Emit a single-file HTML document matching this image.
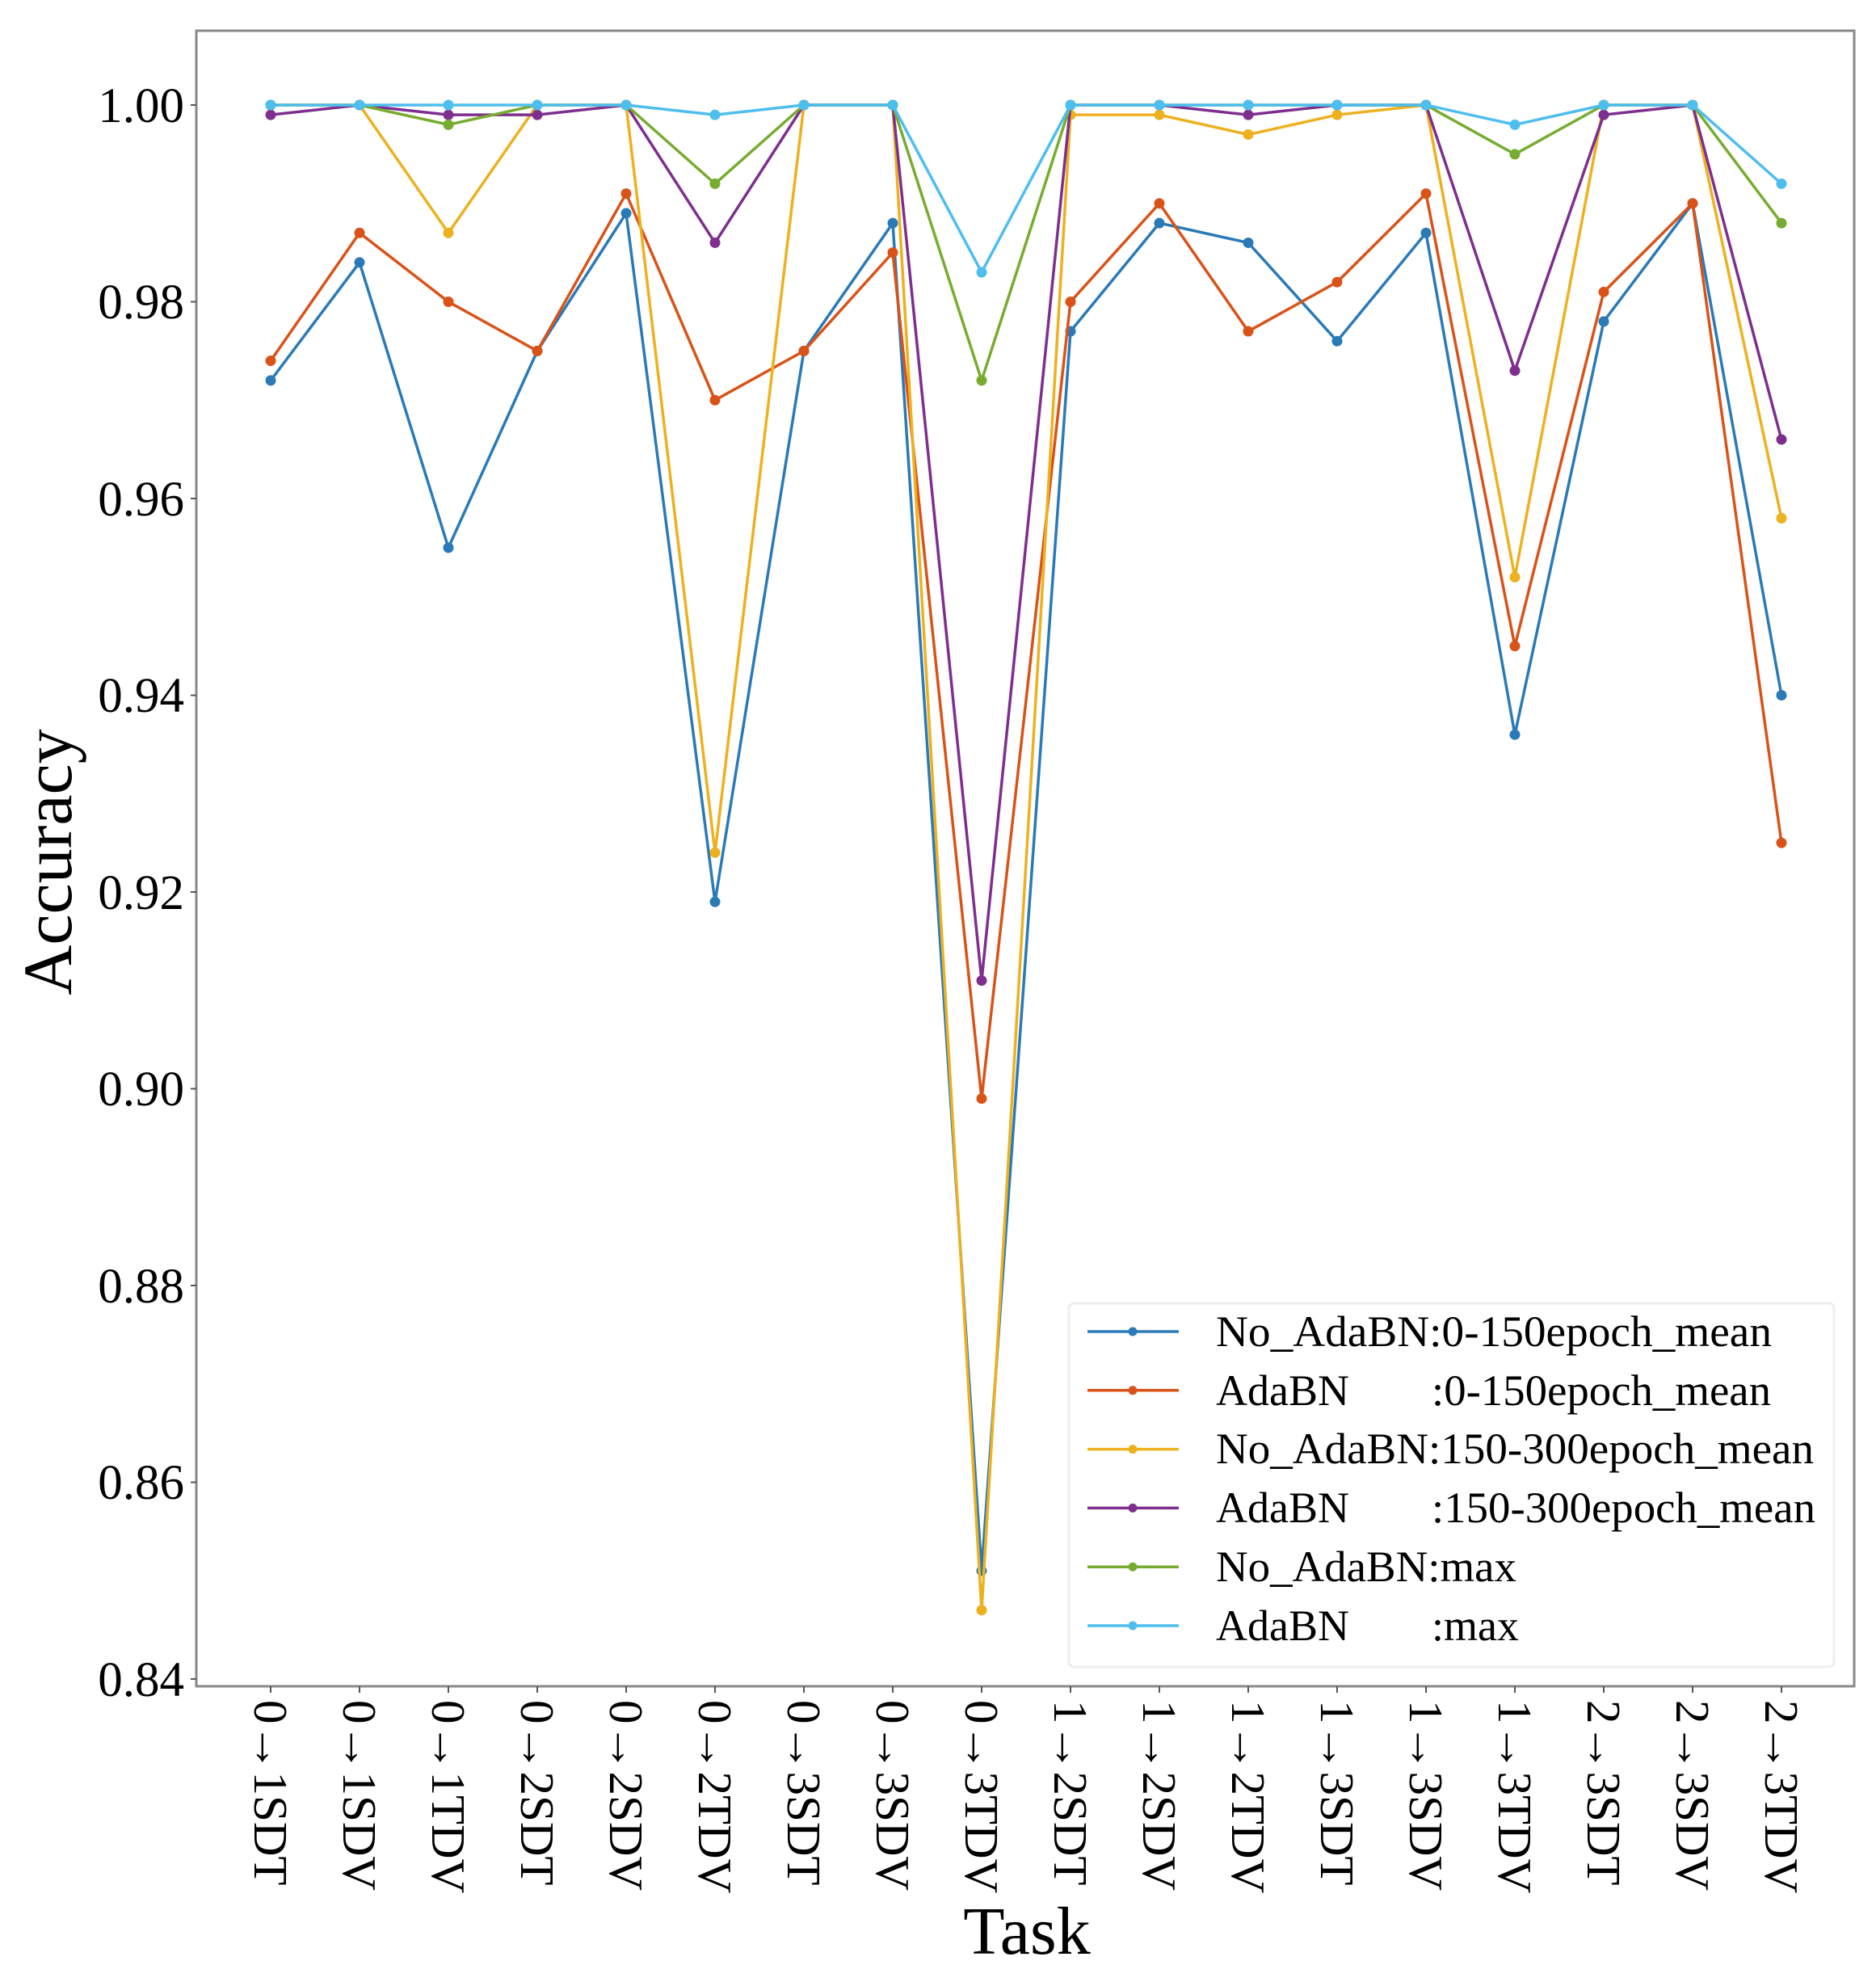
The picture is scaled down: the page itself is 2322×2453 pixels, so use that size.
<!DOCTYPE html>
<html><head><meta charset="utf-8"><style>
html,body{margin:0;padding:0;background:#fff}
svg{display:block}
text{font-family:"Liberation Serif",serif;fill:#000}
</style></head><body>
<svg id="s" width="2322" height="2453" viewBox="0 0 2322 2453" xmlns="http://www.w3.org/2000/svg">
<rect x="0" y="0" width="2322" height="2453" fill="#fff"/>
<g id="series"></g>
<rect x="243" y="38" width="2052" height="2049" fill="none" stroke="#888" stroke-width="3"/>
<g stroke="#555" stroke-width="2">
<line x1="236" y1="130" x2="243" y2="130"/><line x1="236" y1="373.5" x2="243" y2="373.5"/>
<line x1="236" y1="617" x2="243" y2="617"/><line x1="236" y1="860.5" x2="243" y2="860.5"/>
<line x1="236" y1="1104" x2="243" y2="1104"/><line x1="236" y1="1347.5" x2="243" y2="1347.5"/>
<line x1="236" y1="1591" x2="243" y2="1591"/><line x1="236" y1="1834.5" x2="243" y2="1834.5"/>
<line x1="236" y1="2078" x2="243" y2="2078"/>
</g>
<g font-size="61" text-anchor="end">
<text x="228" y="151">1.00</text><text x="228" y="394">0.98</text><text x="228" y="638">0.96</text>
<text x="228" y="881">0.94</text><text x="228" y="1125">0.92</text><text x="228" y="1368">0.90</text>
<text x="228" y="1612">0.88</text><text x="228" y="1855">0.86</text><text x="228" y="2099">0.84</text>
</g>
<g id="xt"></g>
<text x="1271" y="2418" font-size="84" text-anchor="middle">Task</text>
<text transform="translate(88,1067) rotate(-90)" font-size="86" text-anchor="middle">Accuracy</text>
<rect x="1323" y="1613" width="947" height="450" fill="#fff" fill-opacity="0.85" stroke="#eee" stroke-width="3" rx="6"/>
<g id="leg"></g>
<g font-size="54">
<text x="1505" y="1666" textLength="688" lengthAdjust="spacingAndGlyphs">No_AdaBN:0-150epoch_mean</text>
<text x="1505" y="1739">AdaBN</text><text x="1772" y="1739" textLength="420" lengthAdjust="spacingAndGlyphs">:0-150epoch_mean</text>
<text x="1505" y="1811" textLength="740" lengthAdjust="spacingAndGlyphs">No_AdaBN:150-300epoch_mean</text>
<text x="1505" y="1884">AdaBN</text><text x="1772" y="1884" textLength="475" lengthAdjust="spacingAndGlyphs">:150-300epoch_mean</text>
<text x="1505" y="1957" textLength="372" lengthAdjust="spacingAndGlyphs">No_AdaBN:max</text>
<text x="1505" y="2030">AdaBN</text><text x="1772" y="2030">:max</text>
</g>
</svg>
<script>
var NS="http://www.w3.org/2000/svg";
function el(t,a,p){var e=document.createElementNS(NS,t);for(var k in a)e.setAttribute(k,a[k]);p.appendChild(e);return e;}
var labels=["0→1SDT","0→1SDV","0→1TDV","0→2SDT","0→2SDV","0→2TDV","0→3SDT","0→3SDV","0→3TDV","1→2SDT","1→2SDV","1→2TDV","1→3SDT","1→3SDV","1→3TDV","2→3SDT","2→3SDV","2→3TDV"];
var xt=document.getElementById("xt");
labels.forEach(function(l,i){var x=335+110*i;
el("line",{x1:x,y1:2087,x2:x,y2:2095,stroke:"#555","stroke-width":2},xt);
var t=el("text",{transform:"translate("+(x-20)+",2104) rotate(90)","font-size":"59"},xt);t.textContent=l;});
var data=[
["#2a7ab8",[.972,.984,.955,.975,.989,.919,.975,.988,.851,.977,.988,.986,.976,.987,.936,.978,.990,.940]],
["#d95319",[.974,.987,.980,.975,.991,.970,.975,.985,.899,.980,.990,.977,.982,.991,.945,.981,.990,.925]],
["#edb120",[1,1,.987,1,1,.924,1,1,.847,.999,.999,.997,.999,1,.952,1,1,.958]],
["#7e2f8e",[.999,1,.999,.999,1,.986,1,1,.911,1,1,.999,1,1,.973,.999,1,.966]],
["#77ac30",[1,1,.998,1,1,.992,1,1,.972,1,1,1,1,1,.995,1,1,.988]],
["#4dbeee",[1,1,1,1,1,.999,1,1,.983,1,1,1,1,1,.998,1,1,.992]]];
var g=document.getElementById("series"),lg=document.getElementById("leg");
data.forEach(function(d,k){var pts=d[1].map(function(v,i){return [335+110*i,130+(1-v)*12175];});
el("polyline",{points:pts.map(function(p){return p.join(",")}).join(" "),fill:"none",stroke:d[0],"stroke-width":3.5},g);
pts.forEach(function(p){el("circle",{cx:p[0],cy:p[1],r:6.5,fill:d[0]},g);});
var y=1648+k*72.8;
el("line",{x1:1346,y1:y,x2:1459,y2:y,stroke:d[0],"stroke-width":3.5},lg);
el("circle",{cx:1402,cy:y,r:5.5,fill:d[0]},lg);});
</script>
</body></html>
